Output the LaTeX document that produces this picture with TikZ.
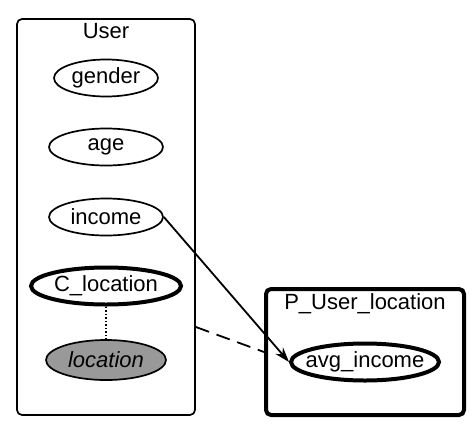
\documentclass[tikz,border=0pt]{standalone}
\usepackage{fontspec}
\setmainfont{Liberation Sans}
\usetikzlibrary{arrows.meta}
\usetikzlibrary{shapes.geometric}
\usetikzlibrary{positioning}
\begin{document}
\begin{tikzpicture}[x=1pt, y=-1pt,
      attr/.style ={ellipse, draw, line width=1.7pt, inner sep=0pt, minimum height=37pt},
      key/.style ={attr, line width=4pt},
      table/.style ={rectangle, draw, rounded corners=5pt, inner sep=0pt},
      every node/.style={font=\fontsize{22}{26}\selectfont}
    ]
    \useasboundingbox (0,0) rectangle (474,424) ;
    \node [table, line width=1.7pt, minimum width=178pt, minimum height=396pt] (user) at (106,217) {} ;
    \node [anchor=base] (usertitle) at (106,38) {User} ;
    \node [attr, minimum width=104pt] (gender) at (106,78) {\makebox[0pt]{gender}} ;
    \node [attr, minimum width=114pt] (age) at (106,147) {\makebox[0pt]{age}} ;
    \node [attr, minimum width=114pt] (income) at (106,217) {\makebox[0pt]{income}} ;
    \node [key, minimum width=150pt] (cloc) at (106,286) {\makebox[0pt]{C\_location}} ;
    \node [attr, fill=gray!80, minimum width=120pt, minimum height=40pt] (loc) at (106,360) {\makebox[0pt]{\itshape location}} ;

    \node [table, line width=4pt, minimum width=198pt, minimum height=126pt] (puser) at (365,352) {} ;
    \node [anchor=base] (ptitle) at (365,309) {P\_User\_location} ;
    \node [key, minimum width=148pt] (avg) at (365,362) {\makebox[0pt]{avg\_income}} ;

    \draw [dotted, line width=1.5pt] (cloc) -- (loc) ;
    \draw [-{Stealth[length=15pt, width=10pt]}, line width=1.8pt] (income.east) -- (avg.west) ;
    \draw [dashed, dash pattern=on 14pt off 8pt, line width=1.8pt] ([yshift=-110pt]user.east) -- (puser.west) ;
  \end{tikzpicture}
\end{document}
